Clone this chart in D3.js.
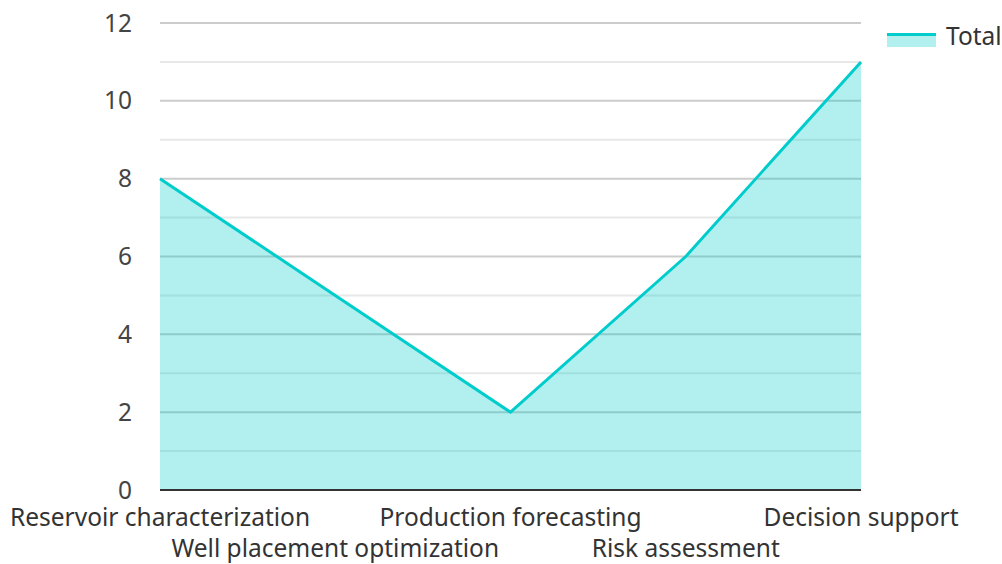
<!DOCTYPE html>
<html><head><meta charset="utf-8">
<script src="https://cdn.jsdelivr.net/npm/d3@7"></script>
<style>body{margin:0;background:#fff}svg text{font-family:"Noto Sans",sans-serif}</style>
</head><body><svg id="c" width="1002" height="564"></svg>
<script>
const categories = ["Reservoir characterization","Well placement optimization","Production forecasting","Risk assessment","Decision support"];
const totals = [8, 5, 2, 6, 11];
const yTicks = [0, 2, 4, 6, 8, 10, 12];
const seriesName = "Total";

const svg = d3.select("#c");
const L = 160, R = 861, T = 23, B = 490;
const x = d3.scalePoint().domain(categories).range([L, R]);
const y = d3.scaleLinear().domain([0, 12]).range([B, T]);
const color = "#00cccc";
const fs = 24.5;

// minor grid
svg.append("g").selectAll("line").data(d3.range(1, 12, 2)).join("line")
  .attr("x1", L).attr("x2", R).attr("y1", d => y(d)).attr("y2", d => y(d))
  .attr("stroke", "#e8e8e8").attr("stroke-width", 2);
// major grid
svg.append("g").selectAll("line").data(yTicks.slice(1)).join("line")
  .attr("x1", L).attr("x2", R).attr("y1", d => y(d)).attr("y2", d => y(d))
  .attr("stroke", "#cccccc").attr("stroke-width", 2);

const data = categories.map((c, i) => ({c, v: totals[i]}));
svg.append("path").datum(data)
  .attr("d", d3.area().x(d => x(d.c)).y0(y(0)).y1(d => y(d.v)))
  .attr("fill", color).attr("fill-opacity", 0.3);
svg.append("path").datum(data)
  .attr("d", d3.line().x(d => x(d.c)).y(d => y(d.v)))
  .attr("fill", "none").attr("stroke", color).attr("stroke-width", 3);

// x axis line
svg.append("line").attr("x1", L).attr("x2", R).attr("y1", B).attr("y2", B)
  .attr("stroke", "#333").attr("stroke-width", 2);

// y labels
svg.append("g").selectAll("text").data(yTicks).join("text")
  .attr("x", 132).attr("y", d => y(d)).attr("dy", "0.35em")
  .attr("text-anchor", "end").attr("font-size", fs).attr("fill", "#444")
  .text(d => d);

// x labels staggered
svg.append("g").selectAll("text").data(categories).join("text")
  .attr("x", d => x(d)).attr("y", (d, i) => i % 2 === 0 ? 526 : 557)
  .attr("text-anchor", "middle").attr("font-size", fs).attr("fill", "#333")
  .text(d => d);

// legend
const lg = svg.append("g");
lg.append("rect").attr("x", 887).attr("y", 34).attr("width", 49).attr("height", 13)
  .attr("fill", color).attr("fill-opacity", 0.3);
lg.append("line").attr("x1", 887).attr("x2", 936).attr("y1", 34.5).attr("y2", 34.5)
  .attr("stroke", color).attr("stroke-width", 3);
lg.append("text").attr("x", 946).attr("y", 36).attr("dy", "0.35em")
  .attr("font-size", fs).attr("fill", "#333").text(seriesName);
</script></body></html>
